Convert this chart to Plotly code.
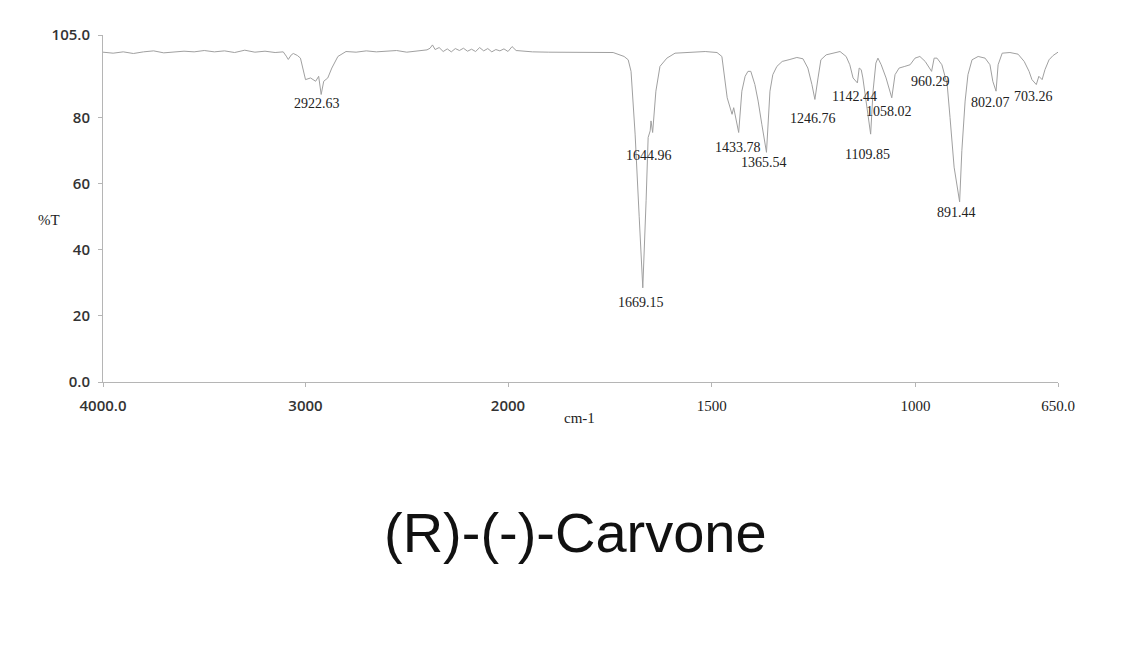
import plotly.graph_objects as go

# ---- data ----
wavenumber = [
    4000, 3950, 3900, 3850, 3800, 3750, 3700, 3650, 3600, 3550, 3500, 3450, 3400, 3350,
    3300, 3250, 3200, 3150, 3110, 3095, 3085, 3070, 3060, 3040, 3025, 3000, 2975, 2950,
    2935, 2922.63, 2910, 2890, 2870, 2840, 2800, 2750, 2700, 2650, 2600, 2550, 2500,
    2450, 2400, 2385, 2373, 2360, 2340, 2320, 2300, 2280, 2260, 2240, 2220, 2200, 2180,
    2160, 2140, 2120, 2100, 2080, 2060, 2040, 2020, 2000,
    1990, 1980, 1960, 1940, 1900, 1850, 1800, 1742, 1715, 1705, 1698, 1688, 1678,
    1669.15, 1661, 1656, 1651, 1649, 1644.96, 1642, 1637, 1627, 1610, 1590, 1553,
    1516, 1487, 1475, 1462, 1455, 1450, 1446, 1433.78, 1426, 1418, 1411, 1404, 1394,
    1386, 1377, 1365.54, 1357, 1350, 1340, 1327, 1308, 1291, 1276, 1264, 1254, 1246.76,
    1239, 1232, 1219, 1202, 1185, 1170, 1161, 1153, 1142.44, 1138, 1133, 1129, 1121,
    1109.85, 1104, 1097, 1092, 1084, 1072, 1058.02, 1050, 1040, 1026, 1013, 1001, 989,
    976, 960.29, 954, 947, 935, 922, 915, 905, 891.44, 886, 878, 871, 861, 846, 829,
    817, 810, 802.07, 797, 787, 768, 748, 733, 721, 714, 703.26, 697, 689, 682, 672,
    662, 650,
]
transmittance = [
    99.8, 99.5, 99.9, 99.4, 99.9, 100.2, 99.6, 99.8, 100.1, 99.9, 100.3, 99.9, 100.2, 99.7,
    100.4, 99.8, 100.1, 99.7, 99.9, 98.6, 97.6, 99.0, 99.4, 98.8, 98.0, 91.5, 92.0, 91.0,
    92.5, 87.0, 91.0, 92.0, 95.0, 98.5, 100.0, 99.8, 100.2, 99.9, 100.1, 100.3, 99.8,
    100.2, 100.5, 101.0, 102.0, 100.6, 101.2, 100.0, 100.8, 99.9, 100.9, 100.3, 101.0, 100.1, 100.7,
    100.0, 101.2, 100.2, 100.9, 99.9, 100.6, 100.2, 100.8, 100.0,
    101.5, 100.3, 100.0, 99.9, 99.8, 99.7, 99.8, 99.7, 98.5, 97.5, 94.0, 75.0, 50.0,
    28.5, 55.0, 74.0, 76.0, 79.0, 75.5, 80.0, 88.0, 95.5, 98.0, 99.5, 99.8,
    100.0, 99.7, 98.5, 86.0, 83.0, 81.0, 83.0, 75.5, 88.0, 92.5, 94.0, 94.0, 90.0,
    85.0, 78.0, 69.5, 88.0, 93.0, 95.5, 97.0, 97.6, 98.2, 97.8, 95.0, 90.0, 85.5,
    92.0, 97.5, 99.0, 99.5, 100.0, 98.5, 96.0, 92.0, 90.5, 95.0, 94.5, 92.0, 85.0,
    75.0, 88.0, 96.5, 98.0, 96.0, 92.0, 86.0, 93.0, 95.0, 95.5, 96.0, 98.0, 98.5,
    97.0, 94.0, 98.0, 98.0, 96.0, 90.0, 80.0, 65.0, 54.5, 70.0, 85.0, 93.0, 97.5, 98.5, 98.0,
    96.0, 91.0, 88.0, 96.0, 99.5, 99.7, 99.2, 97.0, 94.0, 91.5, 90.0, 92.5, 91.5, 94.5, 97.5,
    98.8, 99.8,
]

peak_labels = ["2922.63", "1669.15", "1644.96", "1433.78", "1365.54", "1246.76", "1142.44",
               "1109.85", "1058.02", "960.29", "891.44", "802.07", "703.26"]
peak_positions = [2922.63, 1669.15, 1644.96, 1433.78, 1365.54, 1246.76, 1142.44,
                  1109.85, 1058.02, 960.29, 891.44, 802.07, 703.26]
label_levels = [84.2, 24.2, 68.5, 70.9, 66.4, 79.7, 86.4, 68.8, 81.8, 90.9, 51.2, 84.5, 86.4]
label_xshift = [-4, -2, -4, -1, -2, -2, -3, -3, -3, -1, -3, -6, -3]

x_ticks_left = [4000, 3000, 2000]
x_ticklabels_left = ["4000.0", "3000", "2000"]
x_ticks_right = [1500, 1000, 650]
x_ticklabels_right = ["1500", "1000", "650.0"]
y_ticks = [0, 20, 40, 60, 80, 105]
y_ticklabels = ["0.0", "20", "40", "60", "80", "105.0"]

# ---- figure ----
W, H = 1125, 657
OFF = 8  # page body margin offset
PL, PR, PT, PB = 103, 1058, 35, 382  # plot area in page pixels
L, T = PL - OFF, PT - OFF
R = W - (PR - OFF)
B = H - (PB - OFF)
split = (508 - PL) / (PR - PL)

left_x = [w for w in wavenumber if w >= 2000]
left_y = [t for w, t in zip(wavenumber, transmittance) if w >= 2000]
right_x = [w for w in wavenumber if w <= 2000]
right_y = [t for w, t in zip(wavenumber, transmittance) if w <= 2000]

line_style = dict(color="#a0a0a0", width=1)
fig = go.Figure()
fig.add_trace(go.Scatter(x=left_x, y=left_y, mode="lines", line=line_style,
                         xaxis="x", yaxis="y", showlegend=False))
fig.add_trace(go.Scatter(x=right_x, y=right_y, mode="lines", line=line_style,
                         xaxis="x2", yaxis="y", showlegend=False))

serif = "Liberation Serif, Times New Roman, serif"
sans = "Open Sans, Lato, sans-serif"

for lab, pos, lev, dx in zip(peak_labels, peak_positions, label_levels, label_xshift):
    fig.add_annotation(x=pos, y=lev, xref="x" if pos >= 2000 else "x2", yref="y",
                       text=lab, showarrow=False, xanchor="center", yanchor="middle",
                       xshift=dx, font=dict(family=serif, size=14, color="#222"))

axis_common = dict(showline=True, linecolor="#b5b5b5", linewidth=1, ticks="outside",
                   ticklen=4, tickcolor="#b5b5b5", showgrid=False, zeroline=False,
                   anchor="y", ticklabelstandoff=6)
fig.update_layout(
    width=W, height=H,
    margin=dict(l=L, r=R, t=T, b=B),
    paper_bgcolor="white", plot_bgcolor="white",
    xaxis=dict(domain=[0, split], range=[4000, 2000], tickvals=x_ticks_left,
               ticktext=x_ticklabels_left,
               tickfont=dict(family=sans, size=15, color="#333", weight=600), **axis_common),
    xaxis2=dict(domain=[split, 1], range=[2000, 650], tickvals=x_ticks_right,
                ticktext=x_ticklabels_right,
                tickfont=dict(family=serif, size=15, color="#222"), **axis_common),
    yaxis=dict(range=[0, 105], tickvals=y_ticks, ticktext=y_ticklabels, showline=True,
               linecolor="#b5b5b5", linewidth=1, ticks="outside", ticklen=4,
               tickcolor="#b5b5b5", showgrid=False, zeroline=False, ticklabelstandoff=5,
               tickfont=dict(family=sans, size=15, color="#333", weight=600)),
)

pw, ph = PR - PL, PB - PT
fig.add_annotation(xref="paper", yref="paper", x=(49 - PL) / pw, y=(PB - 220) / ph,
                   text="%T", showarrow=False, xanchor="center", yanchor="middle",
                   font=dict(family=serif, size=15, color="#222"))
fig.add_annotation(xref="paper", yref="paper", x=(579 - PL) / pw, y=-(418 - PB) / ph,
                   text="cm-1", showarrow=False, xanchor="center", yanchor="middle",
                   font=dict(family=serif, size=15, color="#222"))
fig.add_annotation(xref="paper", yref="paper", x=(575 - PL) / pw, y=-(532 - PB) / ph,
                   text="(R)-(-)-Carvone", showarrow=False, xanchor="center", yanchor="middle",
                   font=dict(family="Liberation Sans, Arial, sans-serif", size=56, color="#111"))

fig.write_html("out.html")
